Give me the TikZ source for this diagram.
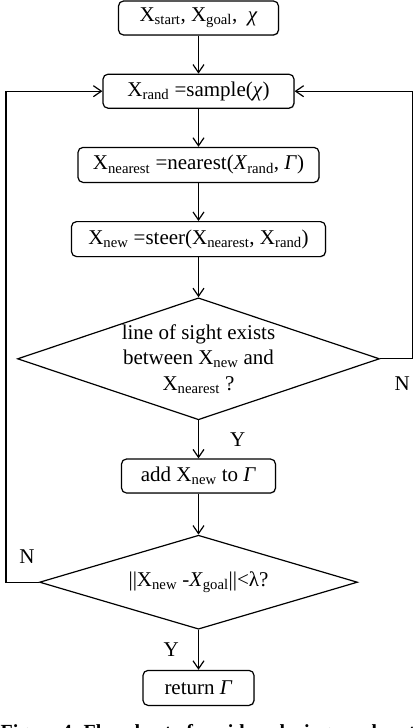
\documentclass[tikz,border=0pt]{standalone}
\usepackage{fontspec}
\setmainfont{Liberation Serif}
\usetikzlibrary{positioning,shapes.geometric,arrows.meta,shadows}
\newcommand{\Xs}[1]{X\textsubscript{#1}}
\newcommand{\Xit}[1]{\textit{X}\textsubscript{#1}}

\begin{document}
\begin{tikzpicture}[x=1pt, y=1pt, node distance={38pt}, line width=1.2pt,
    font=\fontsize{21}{25.5}\selectfont,
    box/.style = {draw, rounded corners=5pt, minimum height=34pt, inner sep=0pt,
        drop shadow={shadow xshift=0.8pt, shadow yshift=-0.8pt, fill=gray!60}, fill=white},
    cond/.style = {draw, diamond, inner sep=0pt, align=center},
    arr/.style = {-{Straight Barb[length=8pt,width=11pt]}},
    lab/.style = {inner sep=0pt}]
    \useasboundingbox (0,0) rectangle (414,-728);
    \node[box, minimum width=160pt] (init) at (198.5,-18) {\Xs{start}, \Xs{goal},~ \textit{χ}};
    \node[box, minimum width=191pt] (sample) [below=of init] {\Xs{rand} =sample(\textit{χ})};
    \node[box, minimum width=241pt, minimum height=35pt] (nearest) [below=of sample] {\Xs{nearest} =nearest(\Xit{rand}, \textit{Γ})};
    \node[box, minimum width=254pt, minimum height=35pt] (steer) [below=of nearest] {\Xs{new} =steer(\Xs{nearest}, \Xs{rand})};
    \node[cond, minimum width=362pt, minimum height=122pt, shape aspect=2.97] (sight) [below=40pt of steer]
        {line of sight exists\\ between \Xs{new} and\\ \Xs{nearest} ?};
    \node[box, minimum width=154pt] (add) [below=of sight] {add \Xs{new} to \textit{Γ}};
    \node[cond, minimum width=318pt, minimum height=94pt, shape aspect=3.38] (goal) [below=41pt of add]
        {||\Xs{new} -\Xit{goal}||<λ?};
    \node[box, minimum width=111pt, minimum height=35pt] (ret) [below=40pt of goal] {return \textit{Γ}};
    \node[lab, anchor=base west, font=\fontsize{20}{24}\selectfont\bfseries] (caption) at (0,-738.5)
        {Figure 4. Flowchart of rapid exploring random tree};

    \draw[arr] (init) -- (sample);
    \draw[arr] (sample) -- (nearest);
    \draw[arr] (nearest) -- (steer);
    \draw[arr] (steer) -- (sight);
    \draw[arr] (sight) -- node[lab, right=31pt] {Y} (add);
    \draw[arr] (sight.east) -- node[lab, pos=.69, below=17pt] {N} ++(32,0) |- (sample.east);
    \draw[arr] (add) -- (goal);
    \draw[arr] (goal) -- node[lab, left=19pt] {Y} (ret);
    \draw[arr] (goal.west) -- node[lab, pos=.36, above=18pt] {N} ++(-33,0) |- (sample.west);
\end{tikzpicture}
\end{document}
